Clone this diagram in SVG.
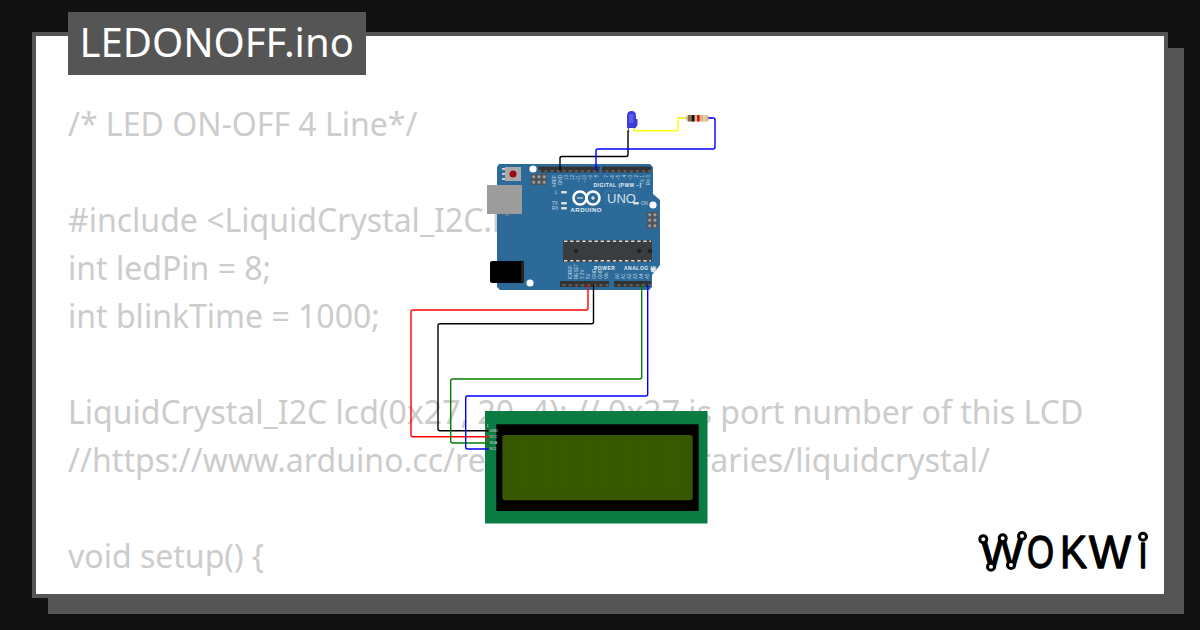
<svg xmlns="http://www.w3.org/2000/svg" width="1200" height="630" viewBox="0 0 1200 630">
<style>
.code{font-family:"Noto Sans","Liberation Sans",sans-serif;font-size:32.03px;fill:#ccc}
.title{font-family:"Noto Sans","Liberation Sans",sans-serif;font-size:40px;fill:#fff}
.w{fill:none;stroke-width:1.4;stroke-linejoin:round;stroke-linecap:round}
.t{font-family:"Liberation Sans",sans-serif;fill:#c3d4e1;font-size:4.6px}
.tb{font-family:"Liberation Sans",sans-serif;fill:#e6eef4;font-size:5px;font-weight:bold;letter-spacing:.5px}
.v{text-anchor:end}
.logo{font-family:"Liberation Sans",sans-serif;font-size:47px;fill:#000;stroke:#000;stroke-width:1.3;stroke-linejoin:round}
.node{fill:#fff;stroke:#000;stroke-width:3}
.hole{fill:#fff}
.lcdt{font-family:"Liberation Sans",sans-serif;font-size:3.8px;fill:#ddd}
</style>
<defs>
<pattern id="pins" x="0" y="0" width="6.1" height="6" patternUnits="userSpaceOnUse">
<rect width="6.1" height="6" fill="#333"/><rect x="1.4" y="2" width="3.2" height="2.4" fill="#5c5c5c"/>
</pattern>
<pattern id="icsp" x="531" y="174" width="5.3" height="5.5" patternUnits="userSpaceOnUse">
<rect width="5.3" height="5.500" fill="#4d5358"/><circle cx="2.650" cy="2.750" r="1.500" fill="#a8a8a8"/>
</pattern>
<pattern id="cells" x="513" y="440" width="8.4" height="13.8" patternUnits="userSpaceOnUse">
<rect width="7.6" height="13" fill="#395900"/>
</pattern>
</defs>
<rect width="1200" height="630" fill="#111"/>
<rect x="48" y="48" width="1136" height="566" fill="#555"/>
<rect x="34" y="34" width="1132" height="562" fill="#fff" stroke="#555" stroke-width="4"/>
<rect x="68" y="12" width="298" height="63" fill="#555"/>
<text class="title" x="79.500" y="57">LEDONOFF.ino</text>
<g id="code">
<text class="code" x="68" y="136">/* LED ON-OFF 4 Line*/</text>
<text class="code" x="68" y="232">#include &lt;LiquidCrystal_I2C.h&gt;</text>
<text class="code" x="68" y="280">int ledPin = 8;</text>
<text class="code" x="68" y="328">int blinkTime = 1000;</text>
<text class="code" x="68" y="424" style="letter-spacing:.015px">LiquidCrystal_I2C lcd(0x27, 20, 4); // 0x27 is port number of this LCD</text>
<text class="code" x="68" y="472" style="letter-spacing:.06px">//https://www.arduino.cc/reference/en/libraries/liquidcrystal/</text>
<text class="code" x="68" y="568">void setup() {</text>
</g>
<g id="arduino">
<path d="M499 164H650L653 167V194L660 200V265L652 275V287L649 290H500L497 287V167Z" fill="#2b6a99"/>
<rect x="487" y="185" width="35" height="29" fill="#9c9c9c"/>
<rect x="505" y="214" width="4" height="2" fill="#777"/>
<rect x="490" y="261" width="34" height="22" rx="2" fill="#000"/>
<rect x="521" y="262" width="3" height="20" fill="#222"/>
<rect x="505" y="167" width="16" height="14" fill="#aaa"/>
<rect x="502" y="168" width="3" height="2" fill="#ccc"/><rect x="502" y="173" width="3" height="2" fill="#ccc"/><rect x="502" y="178" width="3" height="2" fill="#ccc"/>
<circle cx="513" cy="174" r="3.500" fill="#9c0a12"/>
<circle class="hole" cx="533" cy="169" r="3.600"/>
<circle class="hole" cx="653" cy="205" r="3.600"/>
<circle class="hole" cx="530" cy="283" r="3.600"/>
<circle class="hole" cx="653" cy="270" r="2.400" opacity=".8"/>
<rect x="531" y="174" width="15.900" height="11" fill="url(#icsp)"/>
<g transform="translate(647 212) translate(-531 -174)"><rect x="531" y="174" width="10.600" height="16.500" fill="url(#icsp)"/></g>
<rect x="538.500" y="166.500" width="61" height="6" fill="url(#pins)"/>
<rect x="602" y="166.500" width="49" height="6" fill="url(#pins)"/>
<rect x="560" y="281" width="49" height="6" fill="url(#pins)"/>
<rect x="614" y="281" width="37" height="6" fill="url(#pins)"/>
<rect x="563" y="240" width="89" height="22" fill="#3a3d40"/>
<path d="M564 241.200H651M564 260.800H651" stroke="#ddd" stroke-width="1.400" stroke-dasharray="3.400 2.700" fill="none"/>
<circle cx="576" cy="251" r="2.200" fill="#222"/><circle cx="639" cy="251" r="2.200" fill="#222"/><circle cx="650" cy="251" r="2.200" fill="#222"/>
<g fill="none" stroke="#fff">
<circle cx="580" cy="198" r="6.500" stroke-width="2.600"/><circle cx="593" cy="198" r="6.500" stroke-width="2.600"/>
<path d="M591 198h4M593 196v4" stroke-width="1"/><path d="M577 198h6" stroke-width="1"/>
</g>
<rect x="605" y="191" width="30" height="13" rx="2" fill="none" stroke="#3f7dac" stroke-width=".7"/>
<text x="607" y="203" font-family="Liberation Sans,sans-serif" font-size="13" fill="#d4e0ea">UNO</text>
<text class="tb" x="570.500" y="211.500" style="font-size:6px">ARDUINO</text>
<text class="tb" x="593.500" y="186.500">DIGITAL (PWM ~)</text>
<text class="tb" x="594" y="269.500">POWER</text>
<text class="tb" x="624" y="269.500">ANALOG IN</text>
<text class="t" x="555" y="194">L</text><text class="t" x="552" y="205">TX</text><text class="t" x="552" y="210">RX</text><text class="t" x="641" y="205">ON</text>
<g fill="#ddd"><rect x="561" y="191" width="6" height="2.500" rx="1"/><rect x="561" y="202" width="6" height="2.500" rx="1"/><rect x="561" y="207" width="6" height="2.500" rx="1"/><rect x="633" y="202" width="6" height="2.500" rx="1"/></g>
<g id="labels-digital">
<text class="t v" transform="translate(556,175) rotate(-90)">AREF</text>
<text class="t v" transform="translate(562,175) rotate(-90)">GND</text>
<text class="t v" transform="translate(568,175) rotate(-90)">13</text>
<text class="t v" transform="translate(574,175) rotate(-90)">12</text>
<text class="t v" transform="translate(580,175) rotate(-90)">~11</text>
<text class="t v" transform="translate(586,175) rotate(-90)">~10</text>
<text class="t v" transform="translate(592,175) rotate(-90)">~9</text>
<text class="t v" transform="translate(598,175) rotate(-90)">8</text>
<text class="t v" transform="translate(608,175) rotate(-90)">7</text>
<text class="t v" transform="translate(614,175) rotate(-90)">~6</text>
<text class="t v" transform="translate(620,175) rotate(-90)">~5</text>
<text class="t v" transform="translate(626,175) rotate(-90)">4</text>
<text class="t v" transform="translate(632,175) rotate(-90)">~3</text>
<text class="t v" transform="translate(638,175) rotate(-90)">2</text>
<text class="t v" transform="translate(644,175) rotate(-90)">TX 1</text>
<text class="t v" transform="translate(650,175) rotate(-90)">RX 0</text>
</g>
<g id="labels-bottom">
<text class="t" transform="translate(572,279) rotate(-90)">IOREF</text>
<text class="t" transform="translate(578,279) rotate(-90)">RESET</text>
<text class="t" transform="translate(584,279) rotate(-90)">3.3V</text>
<text class="t" transform="translate(590,279) rotate(-90)">5V</text>
<text class="t" transform="translate(596,279) rotate(-90)">GND</text>
<text class="t" transform="translate(602,279) rotate(-90)">GND</text>
<text class="t" transform="translate(608,279) rotate(-90)">Vin</text>
<text class="t" transform="translate(619,279) rotate(-90)">A0</text>
<text class="t" transform="translate(625,279) rotate(-90)">A1</text>
<text class="t" transform="translate(631,279) rotate(-90)">A2</text>
<text class="t" transform="translate(637,279) rotate(-90)">A3</text>
<text class="t" transform="translate(643,279) rotate(-90)">A4</text>
<text class="t" transform="translate(649,279) rotate(-90)">A5</text>
</g>
</g>
<g id="lcd">
<rect x="485" y="411" width="222.500" height="112.500" fill="#0a7c43"/>
<rect x="496.300" y="424.300" width="202.400" height="86.700" fill="#000"/>
<rect x="502.300" y="435" width="190.400" height="65.300" rx="3" fill="#375800"/>
<rect x="513" y="440" width="168" height="55" fill="url(#cells)"/>
<g fill="#6b5a3a"><rect x="486" y="429" width="3" height="3"/><rect x="486" y="435" width="3" height="3"/><rect x="486" y="441" width="3" height="3"/><rect x="486" y="447" width="3" height="3"/></g>
<text class="lcdt" x="486.500" y="427">1</text>
<text class="lcdt" x="489.500" y="432">GND</text>
<text class="lcdt" x="489.500" y="438">VCC</text>
<text class="lcdt" x="489.500" y="444">SDA</text>
<text class="lcdt" x="489.500" y="450">SCL</text>
</g>
<g id="led">
<path d="M634 127v4" stroke="#aaa" stroke-width="1.200"/>
<path d="M628.500 127v5" stroke="#666" stroke-width="1.200"/>
<path d="M627 127V116Q627 111 631.500 111Q636 111 636 116V119H637.500V125L635.500 128H627Z" fill="#3c3cd8"/>
<path d="M629 114h4.500v9h-4.500z" fill="#5c5ce6"/>
</g>
<g id="resistor">
<path d="M678 118H686M708 118H712" stroke="#aaa" stroke-width="1.400"/>
<rect x="686" y="115" width="23" height="6.500" rx="3" fill="#d6b98a"/>
<rect x="688" y="115" width="3" height="6.500" fill="#8a6a4a"/>
<rect x="691.500" y="115" width="3" height="6.500" fill="#111"/>
<rect x="697" y="115" width="2.600" height="6.500" fill="#e0101a"/>
<rect x="703" y="115" width="3" height="6.500" fill="#e8cc98"/>
</g>
<g id="connectors">
<path class="w" stroke="#000" d="M560 170V158Q560 156.500 562 156.500H626Q628 156.500 628 154.500V131"/>
<path class="w" stroke="#0000ff" d="M596 170V151Q596 149 598 149H713Q715 149 715 147V120Q715 118 713 118H709"/>
<path class="w" stroke="#ffff00" d="M634 129Q634 130.700 636 130.700H676Q678 130.700 678 128.700V120Q678 118 680 118H685"/>
<path class="w" stroke="#ff0000" d="M588 285V308Q588 310 586 310H413Q411 310 411 312V434.700Q411 436.700 413 436.700H488"/>
<path class="w" stroke="#000" d="M593.500 285V321.700Q593.500 323.700 591.500 323.700H440Q438 323.700 438 325.700V428.700Q438 430.700 440 430.700H488"/>
<path class="w" stroke="#008000" d="M641.700 285V377Q641.700 379 639.700 379H452.700Q450.700 379 450.700 381V441Q450.700 443 452.700 443H488"/>
<path class="w" stroke="#0000ff" d="M647.700 285V394Q647.700 396 645.700 396H467.700Q465.700 396 465.700 398V447Q465.700 449 467.700 449H488"/>
</g>
<g id="logo">
<text class="logo" x="980" y="568" textLength="44" lengthAdjust="spacingAndGlyphs">W</text>
<text class="logo" x="1027" y="568" textLength="27" lengthAdjust="spacingAndGlyphs">O</text>
<text class="logo" x="1060" y="568" textLength="27" lengthAdjust="spacingAndGlyphs">K</text>
<text class="logo" x="1089" y="568" textLength="42" lengthAdjust="spacingAndGlyphs">W</text>
<text class="logo" x="1139" y="568" textLength="8" lengthAdjust="spacingAndGlyphs">i</text>
<circle class="node" cx="983.300" cy="539.300" r="3.500"/>
<circle class="node" cx="1002.700" cy="538.300" r="3.500"/>
<circle class="node" cx="1022" cy="536" r="3.500"/>
<circle class="node" cx="991" cy="566.700" r="3.500"/>
<circle class="node" cx="1011" cy="565" r="3.500"/>
<circle class="node" cx="1143" cy="536.700" r="3.500"/>
</g>
</svg>
